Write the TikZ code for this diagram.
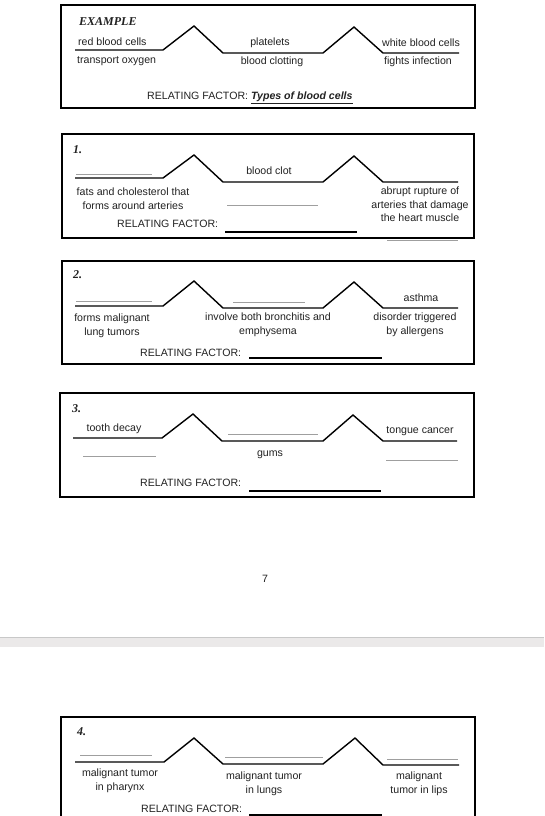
\documentclass[tikz,border=0pt]{standalone}
\usepackage{fontspec}
\setmainfont{Liberation Sans}
\newfontfamily\numfont{Liberation Serif}
\definecolor{txt}{HTML}{222222}
\definecolor{bandgray}{HTML}{EBE9E9}
\definecolor{bandline}{HTML}{C8C8C8}
\tikzset{
  lbl/.style={font=\fontsize{10.6}{13.7}\selectfont, text=txt, inner sep=0pt},
  mlbl/.style={lbl, align=center, anchor=center},
  numlbl/.style={font=\numfont\bfseries\itshape\fontsize{12}{14}\selectfont, text=txt, inner sep=0pt, anchor=mid west},
  framebox/.style={draw=black, line width=2pt},
  zig/.style={draw=black, line width=1.4pt, line join=miter},
  blank/.style={draw=gray!75, line width=0.8pt},
  rfline/.style={draw=black, line width=1.5pt}
}
\begin{document}
\begin{tikzpicture}[x=1pt, y=-1pt]
\useasboundingbox (0,0) rectangle (544,816);
\clip (0,0) rectangle (544,816);
\fill[white] (0,0) rectangle (544,816);
% page separator
\fill[bandgray] (0,637) rectangle (544,647);
\draw[bandline, line width=0.8pt] (0,637) -- (544,637);
\node[lbl, anchor=mid] (pnum) at (265,580) {7};

% ---------- EXAMPLE ----------
\draw[framebox] (61,5) rectangle (475,108);
\draw[zig] (75,50)--(163,50)--(194,26)--(223,53)--(323,53)--(354,27)--(383,53)--(459,53);
\node[numlbl] (exh) at (79,23) {EXAMPLE};
\node[lbl, anchor=mid west] (ea) at (78,43) {red blood cells};
\node[lbl, anchor=mid west] (eb) at (77,61) {transport oxygen};
\node[lbl, anchor=mid] (ec) at (270,43) {platelets};
\node[lbl, anchor=mid] (ed) at (272,62) {blood clotting};
\node[lbl, anchor=mid] (ee) at (421,44) {white blood cells};
\node[lbl, anchor=mid] (ef) at (418,62) {fights infection};
\node[lbl, anchor=mid west] (erf) at (147,97) {RELATING FACTOR: \textbf{\textit{\underline{Types of blood cells}}}};

% ---------- 1 ----------
\draw[framebox] (62,134) rectangle (474,238);
\draw[zig] (75,178)--(163,178)--(194,155)--(223,182)--(323,182)--(354,156)--(383,182)--(458,182);
\node[numlbl] (n1) at (73,151) {1.};
\draw[blank] (76,174) -- (152,174);
\node[lbl, anchor=mid] (a1) at (269,172) {blood clot};
\node[mlbl] (b1) at (133,199) {fats and cholesterol that\\forms around arteries};
\draw[blank] (227,205) -- (318,205);
\node[mlbl] (c1) at (420,204.5) {abrupt rupture of\\arteries that damage\\the heart muscle};
\draw[blank] (387,240.5) -- (458,240.5);
\node[lbl, anchor=mid west] (rf1) at (117,225) {RELATING FACTOR:};
\draw[rfline] (225,232) -- (357,232);

% ---------- 2 ----------
\draw[framebox] (62,261) rectangle (474,364);
\draw[zig] (75,306)--(163,306)--(194,281)--(223,308)--(323,308)--(354,282)--(383,308)--(458,308);
\node[numlbl] (n2) at (73,276) {2.};
\draw[blank] (76,301) -- (152,301);
\draw[blank] (233,302) -- (305,302);
\node[lbl, anchor=mid] (a2) at (421,299) {asthma};
\node[mlbl] (b2) at (112,326) {forms malignant\\lung tumors};
\node[mlbl] (c2) at (268,325) {involve both bronchitis and\\emphysema};
\node[mlbl] (d2) at (415,325) {disorder triggered\\by allergens};
\node[lbl, anchor=mid west] (rf2) at (140,354) {RELATING FACTOR:};
\draw[rfline] (249,358) -- (382,358);

% ---------- 3 ----------
\draw[framebox] (60,393) rectangle (474,497);
\draw[zig] (73,438)--(162,438)--(193,414)--(222,441)--(323,441)--(353,415)--(383,441)--(457,441);
\node[numlbl] (n3) at (72,410) {3.};
\node[lbl, anchor=mid] (a3) at (114,429) {tooth decay};
\draw[blank] (228,434) -- (318,434);
\node[lbl, anchor=mid] (b3) at (420,431) {tongue cancer};
\draw[blank] (83,456) -- (156,456);
\node[lbl, anchor=mid] (c3) at (270,454) {gums};
\draw[blank] (386,460) -- (458,460);
\node[lbl, anchor=mid west] (rf3) at (140,484) {RELATING FACTOR:};
\draw[rfline] (249,491) -- (381,491);

% ---------- 4 ----------
\draw[framebox] (61,840) -- (61,717) -- (475,717) -- (475,840);
\draw[zig] (75,762)--(164,762)--(194,738)--(223,764)--(323,764)--(355,738)--(383,765)--(459,765);
\node[numlbl] (n4) at (77,733) {4.};
\draw[blank] (80,755) -- (152,755);
\draw[blank] (225,757) -- (323,757);
\draw[blank] (387,759) -- (458,759);
\node[mlbl] (a4) at (120,780.5) {malignant tumor\\in pharynx};
\node[mlbl] (b4) at (264,784) {malignant tumor\\in lungs};
\node[mlbl] (c4) at (419,784) {malignant\\tumor in lips};
\node[lbl, anchor=mid west] (rf4) at (141,810) {RELATING FACTOR:};
\draw[rfline] (249,815) -- (382,815);
\end{tikzpicture}
\end{document}
